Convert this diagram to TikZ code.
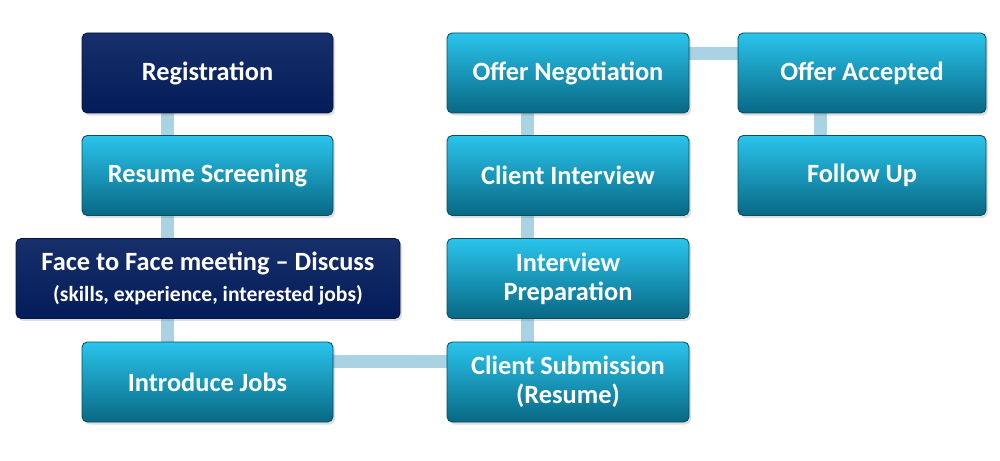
\documentclass[tikz,border=0pt]{standalone}
\usepackage{fontspec}
\setmainfont{Carlito}
\usetikzlibrary{positioning, shadows, backgrounds}
\definecolor{tealtop}{HTML}{2AC4EC}
\definecolor{tealmid}{HTML}{149CC4}
\definecolor{tealbot}{HTML}{086884}
\definecolor{navyblue}{HTML}{031E5E}
\definecolor{linkblue}{HTML}{A9D2E3}

\begin{document}
\begin{tikzpicture}[
  stage/.style={
    rounded corners=3pt, minimum height=1.6cm, align=center,
    draw=tealbot!75!black, line width=0.5pt,
    top color=tealtop, middle color=tealmid, bottom color=tealbot,
    text=white, font=\bfseries\fontsize{15}{16.5}\selectfont,
    drop shadow={opacity=0.25, shadow xshift=0.04cm, shadow yshift=-0.05cm}
  },
  keystage/.style={stage, top color=navyblue!92!white, middle color=navyblue, bottom color=navyblue!95!black, draw=navyblue!70!black},
  link/.style={linkblue, line width=0.26cm}
]
  \useasboundingbox (0,0) rectangle (20,9.2);

  % candidate side
  \node[keystage, minimum width=5.02cm] (reg) at (4.15,7.74) {Registration};
  \node[stage, minimum width=5.02cm] (scr) at (4.15,5.69) {Resume Screening};
  \node[keystage, minimum width=7.68cm] (meet) at (4.16,3.63)
    {Face to Face meeting -- Discuss\\[1pt]{\fontsize{12.3}{15}\selectfont(skills, experience, interested jobs)}};
  \node[stage, minimum width=5.02cm] (jobs) at (4.15,1.56) {Introduce Jobs};

  % client side
  \node[stage, minimum width=4.84cm] (neg) at (11.36,7.74) {Offer Negotiation};
  \node[stage, minimum width=4.84cm] (intv) at (11.36,5.69) {Client Interview};
  \node[stage, minimum width=4.84cm] (prep) at (11.36,3.63) {Interview\\Preparation};
  \node[stage, minimum width=4.84cm] (sub) at (11.36,1.56) {Client Submission\\(Resume)};

  \node[stage, minimum width=4.96cm] (acc) at (17.24,7.74) {Offer Accepted};
  \node[stage, minimum width=4.96cm] (fup) at (17.24,5.69) {Follow Up};

  \begin{scope}[on background layer]
    \draw[link] ([xshift=-0.81cm]reg.south) -- ([xshift=-0.81cm]reg.south |- scr.north);
    \draw[link] ([xshift=-0.81cm]scr.south) -- ([xshift=-0.81cm]scr.south |- meet.north);
    \draw[link] ([xshift=-0.81cm]scr.south |- meet.south) -- ([xshift=-0.81cm]jobs.north);
    \draw[link] ([yshift=0.42cm]jobs.east) -- ([yshift=0.42cm]jobs.east -| sub.west);
    \draw[link] ([xshift=-0.82cm]sub.north) -- ([xshift=-0.82cm]prep.south);
    \draw[link] ([xshift=-0.82cm]prep.north) -- ([xshift=-0.82cm]intv.south);
    \draw[link] ([xshift=-0.82cm]intv.north) -- ([xshift=-0.82cm]neg.south);
    \draw[link] ([yshift=0.38cm]neg.east) -- ([yshift=0.38cm]neg.east -| acc.west);
    \draw[link] ([xshift=-0.84cm]acc.south) -- ([xshift=-0.84cm]fup.north);
  \end{scope}
\end{tikzpicture}
\end{document}
